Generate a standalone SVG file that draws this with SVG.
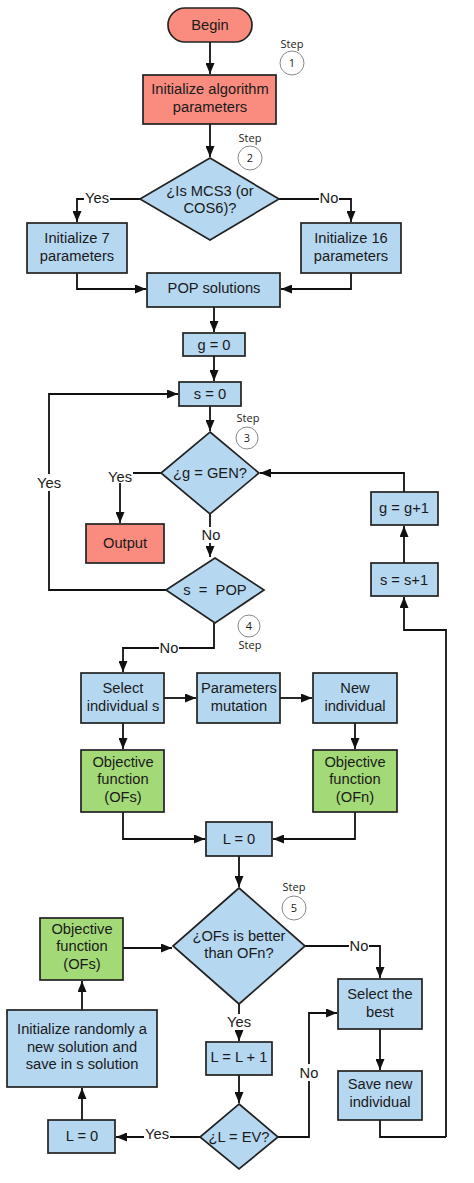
<svg xmlns="http://www.w3.org/2000/svg" width="474" height="1183" viewBox="0 0 474 1183">
<defs>
<marker id="ah" viewBox="0 0 10 10" refX="10" refY="5" markerWidth="11" markerHeight="9" preserveAspectRatio="none" markerUnits="userSpaceOnUse" orient="auto"><path d="M0,0 L10,5 L0,10 z" fill="#111"/></marker>
<style>
.r{fill:#F98C7E;stroke:#222;stroke-width:1.7}
.b{fill:#B5D7F0;stroke:#222;stroke-width:1.7}
.g{fill:#A3D977;stroke:#222;stroke-width:1.7}
.t{font-family:"Liberation Sans",Arial,sans-serif;font-size:14.7px;fill:#1a1a1a;text-anchor:middle}
.l{font-family:"Liberation Sans",Arial,sans-serif;font-size:14.7px;fill:#1a1a1a;text-anchor:middle}
.lb{fill:#fff}
.c{fill:none;stroke:#111;stroke-width:1.8}
.a{fill:none;stroke:#111;stroke-width:1.8;marker-end:url(#ah)}
.sc{fill:#fff;stroke:#888;stroke-width:1}
.st{font-family:"Open Sans","DejaVu Sans",sans-serif;font-size:11px;fill:#222;text-anchor:middle}
</style>
</defs>
<rect width="474" height="1183" fill="#fff"/>

<g id="connectors">
<path class="a" d="M210,42 V74"/>
<path class="a" d="M210,124 V157"/>
<path class="a" d="M140,199 H77 V222"/>
<path class="a" d="M279,199 H351 V222"/>
<path class="a" d="M77,273 V289 H146"/>
<path class="a" d="M351,273 V289 H281"/>
<path class="a" d="M214,307 V332"/>
<path class="a" d="M214,356 V381"/>
<path class="a" d="M210,406 V431"/>
<path class="a" d="M161,473 H120 V523"/>
<path class="a" d="M210,514 V557"/>
<path class="a" d="M166,590 H49 V394 H178"/>
<path class="a" d="M404,492 V473 H260"/>
<path class="a" d="M404,563 V526"/>
<path class="a" d="M446,1137 V630 H404 V597"/>
<path class="a" d="M214,623 V648 H123 V672"/>
<path class="a" d="M164,698 H196"/>
<path class="a" d="M280,698 H312"/>
<path class="a" d="M123,723 V749"/>
<path class="a" d="M355,723 V749"/>
<path class="a" d="M123,812 V839 H205"/>
<path class="a" d="M355,812 V839 H273"/>
<path class="a" d="M239,856 V887"/>
<path class="a" d="M123,948 H172"/>
<path class="a" d="M305,946 H380 V978"/>
<path class="a" d="M380,1029 V1070"/>
<path class="c" d="M380,1120 V1137 H446"/>
<path class="a" d="M239,1004 V1041"/>
<path class="a" d="M239,1075 V1103"/>
<path class="a" d="M200,1137 H116"/>
<path class="a" d="M82,1120 V1088"/>
<path class="a" d="M82,1010 V981"/>
<path class="a" d="M278,1137 H309 V1013 H337"/>
<!-- labels -->
<rect class="lb" x="84" y="190" width="26" height="15"/>
<text class="l" x="97" y="203">Yes</text>
<rect class="lb" x="319" y="190" width="20" height="15"/>
<text class="l" x="329" y="203">No</text>
<rect class="lb" x="107" y="467" width="26" height="16"/>
<text class="l" x="120" y="482">Yes</text>
<rect class="lb" x="200" y="527" width="22" height="16"/>
<text class="l" x="211" y="540">No</text>
<rect class="lb" x="35" y="474" width="28" height="17"/>
<text class="l" x="49" y="488">Yes</text>
<rect class="lb" x="159" y="640" width="20" height="15"/>
<text class="l" x="169" y="653">No</text>
<rect class="lb" x="349" y="938" width="20" height="15"/>
<text class="l" x="359" y="951">No</text>
<rect class="lb" x="226" y="1014" width="26" height="16"/>
<text class="l" x="239" y="1027">Yes</text>
<rect class="lb" x="144" y="1126" width="26" height="15"/>
<text class="l" x="157" y="1139">Yes</text>
<rect class="lb" x="299" y="1064" width="20" height="17"/>
<text class="l" x="309" y="1078">No</text>
</g>

<g id="step1"><text class="st" x="292" y="48">Step</text><circle class="sc" cx="292" cy="63" r="12"/><text class="st" x="292" y="67">1</text></g>
<g id="step2"><text class="st" x="250" y="142">Step</text><circle class="sc" cx="250" cy="158" r="12"/><text class="st" x="250" y="162">2</text></g>
<g id="step3"><text class="st" x="248" y="422">Step</text><circle class="sc" cx="247" cy="438" r="11"/><text class="st" x="247" y="442">3</text></g>
<g id="step4"><circle class="sc" cx="249" cy="626" r="11"/><text class="st" x="249" y="630">4</text><text class="st" x="250" y="649">Step</text></g>
<g id="step5"><text class="st" x="294" y="891">Step</text><circle class="sc" cx="294" cy="908" r="12"/><text class="st" x="294" y="912">5</text></g>

<g id="begin"><rect class="r" x="168" y="8" width="84" height="34" rx="17"/><text class="t" x="210" y="30">Begin</text></g>
<g id="init-alg"><rect class="r" x="143" y="75" width="133" height="49"/><text class="t" x="210" y="94">Initialize algorithm</text><text class="t" x="210" y="112">parameters</text></g>
<g id="mcs3"><polygon class="b" points="210,158 279,199 210,240 140,199"/><text class="t" x="210" y="196">¿Is MCS3 (or</text><text class="t" x="210" y="213">COS6)?</text></g>
<g id="init7"><rect class="b" x="27" y="223" width="100" height="50"/><text class="t" x="77" y="243">Initialize 7</text><text class="t" x="77" y="261">parameters</text></g>
<g id="init16"><rect class="b" x="301" y="223" width="100" height="50"/><text class="t" x="351" y="243">Initialize 16</text><text class="t" x="351" y="261">parameters</text></g>
<g id="pop"><rect class="b" x="147" y="273" width="133" height="34"/><text class="t" x="214" y="293">POP solutions</text></g>
<g id="g0"><rect class="b" x="183" y="333" width="62" height="23"/><text class="t" x="214" y="350">g = 0</text></g>
<g id="s0"><rect class="b" x="179" y="382" width="62" height="24"/><text class="t" x="210" y="399">s = 0</text></g>
<g id="ggen"><polygon class="b" points="210,432 259,473 210,514 161,473"/><text class="t" x="210" y="478">¿g = GEN?</text></g>
<g id="output"><rect class="r" x="86" y="524" width="78" height="39"/><text class="t" x="125" y="548">Output</text></g>
<g id="spop"><polygon class="b" points="215,558 264,590 215,623 166,590"/><text class="t" x="215" y="595" xml:space="preserve">s  =  POP</text></g>
<g id="gg1"><rect class="b" x="371" y="492" width="67" height="33"/><text class="t" x="404" y="513">g = g+1</text></g>
<g id="ss1"><rect class="b" x="371" y="563" width="67" height="33"/><text class="t" x="404" y="585">s = s+1</text></g>
<g id="select-s"><rect class="b" x="81" y="673" width="83" height="50"/><text class="t" x="123" y="693">Select</text><text class="t" x="123" y="711">individual s</text></g>
<g id="mutation"><rect class="b" x="197" y="673" width="83" height="50"/><text class="t" x="239" y="693">Parameters</text><text class="t" x="239" y="711">mutation</text></g>
<g id="new-ind"><rect class="b" x="313" y="673" width="84" height="50"/><text class="t" x="355" y="693">New</text><text class="t" x="355" y="711">individual</text></g>
<g id="ofs1"><rect class="g" x="81" y="750" width="83" height="62"/><text class="t" x="123" y="767">Objective</text><text class="t" x="123" y="784">function</text><text class="t" x="123" y="802">(OFs)</text></g>
<g id="ofn"><rect class="g" x="313" y="750" width="84" height="62"/><text class="t" x="355" y="767">Objective</text><text class="t" x="355" y="784">function</text><text class="t" x="355" y="802">(OFn)</text></g>
<g id="l0a"><rect class="b" x="206" y="822" width="66" height="34"/><text class="t" x="239" y="844">L = 0</text></g>
<g id="better"><polygon class="b" points="239,888 305,946 239,1004 173,946"/><text class="t" x="239" y="941">¿OFs is better</text><text class="t" x="239" y="958">than OFn?</text></g>
<g id="ofs2"><rect class="g" x="40" y="918" width="83" height="62"/><text class="t" x="82" y="934">Objective</text><text class="t" x="82" y="951">function</text><text class="t" x="82" y="969">(OFs)</text></g>
<g id="sel-best"><rect class="b" x="338" y="979" width="84" height="50"/><text class="t" x="380" y="999">Select the</text><text class="t" x="380" y="1017">best</text></g>
<g id="save-new"><rect class="b" x="338" y="1071" width="84" height="49"/><text class="t" x="380" y="1089">Save new</text><text class="t" x="380" y="1107">individual</text></g>
<g id="ll1"><rect class="b" x="206" y="1042" width="66" height="33"/><text class="t" x="239" y="1062">L = L + 1</text></g>
<g id="lev"><polygon class="b" points="239,1104 278,1137 239,1169 200,1137"/><text class="t" x="239" y="1142">¿L = EV?</text></g>
<g id="l0b"><rect class="b" x="48" y="1120" width="67" height="33"/><text class="t" x="82" y="1141">L = 0</text></g>
<g id="init-rand"><rect class="b" x="7" y="1010" width="150" height="77"/><text class="t" x="82" y="1034">Initialize randomly a</text><text class="t" x="82" y="1052">new solution and</text><text class="t" x="82" y="1069">save in s solution</text></g>
</svg>
